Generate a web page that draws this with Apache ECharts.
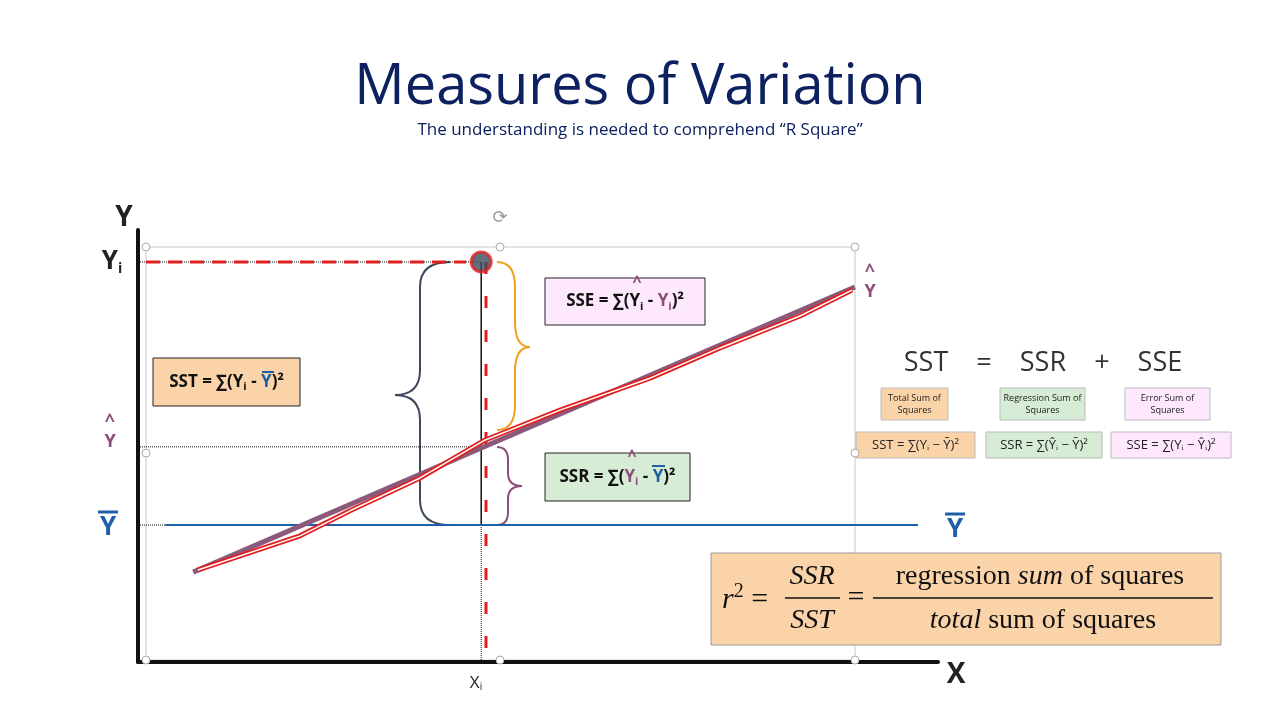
<!DOCTYPE html>
<html><head><meta charset="utf-8">
<script src="https://cdn.jsdelivr.net/npm/echarts@6/dist/echarts.min.js"></script>
<style>html,body{margin:0;background:#fff}#c{width:1280px;height:720px}</style>
</head><body><div id="c"></div>
<script>
const xi = 42.9, yi = 92.6, yhat = 49.8, ybar = 31.7;
const regressionLine = [[6.9, 20.8], [89.6, 86.8]];
const handDrawn = [[7.5,21.3],[20.25,29.2],[26.5,35.0],[35.25,42.6],[43.4,51.4],[52.75,58.3],[64,65.7],[72.75,72.7],[82.75,80.1],[89.25,86.1]];
const meanLine = [[3.4, ybar], [97.5, ybar]];
const titleText = 'Measures of Variation';
const subtitleText = 'The understanding is needed to comprehend “R Square”';

const chart = echarts.init(document.getElementById('c'));
const F = 'Open Sans';
function box(x,y,w,h,fill,text,rich,fs){
  return {type:'group',children:[
    {type:'rect',shape:{x:x,y:y,width:w,height:h},style:{fill:fill,stroke:'#222',lineWidth:1}},
    {type:'text',x:x+w/2,y:y+h/2,style:{text:text,rich:rich||{},fill:'#111',font:'bold '+(fs||17)+'px '+F,align:'center',verticalAlign:'middle'}}
  ]};
}
const richBase = {
  b:{fontWeight:'bold',fontSize:17,fontFamily:F,fill:'#111'},
  s:{fontWeight:'bold',fontSize:11,fontFamily:F,fill:'#111',padding:[10,0,0,0]},
  p:{fontWeight:'bold',fontSize:17,fontFamily:F,fill:'#8b4f7a'},
  ps:{fontWeight:'bold',fontSize:11,fontFamily:F,fill:'#8b4f7a',padding:[10,0,0,0]},
  bl:{fontWeight:'bold',fontSize:17,fontFamily:F,fill:'#1f5fa8'}
};
function small(x,y,w,h,fill,text,fs){
  return {type:'group',children:[
    {type:'rect',shape:{x:x,y:y,width:w,height:h},style:{fill:fill,stroke:'#bbb',lineWidth:1}},
    {type:'text',x:x+w/2,y:y+h/2,style:{text:text,fill:'#222',font:(fs||9)+'px '+F,align:'center',verticalAlign:'middle',lineHeight:12}}
  ]};
}
function label(x,y,t,color,fs){
  return {type:'text',x:x,y:y,style:{text:t,fill:color,font:'bold '+fs+'px '+F,align:'center',verticalAlign:'middle'}};
}
function brace(x0,xm,xt,y0,ym,y1,color){
  const st={fill:'none',stroke:color,lineWidth:2};
  const r=Math.min(25,(ym-y0)/3);
  return {type:'group',children:[
    {type:'bezierCurve',shape:{x1:x0,y1:y0,cpx1:xm,cpy1:y0,x2:xm,y2:y0+r},style:st},
    {type:'line',shape:{x1:xm,y1:y0+r,x2:xm,y2:ym-r},style:st},
    {type:'bezierCurve',shape:{x1:xm,y1:ym-r,cpx1:xm,cpy1:ym,x2:xt,y2:ym},style:st},
    {type:'bezierCurve',shape:{x1:xt,y1:ym,cpx1:xm,cpy1:ym,x2:xm,y2:ym+r},style:st},
    {type:'line',shape:{x1:xm,y1:ym+r,x2:xm,y2:y1-r},style:st},
    {type:'bezierCurve',shape:{x1:xm,y1:y1-r,cpx1:xm,cpy1:y1,x2:x0,y2:y1},style:st}
  ]};
}
const graphics = [
  {type:'text',x:640,y:88,style:{text:titleText,fill:'#0d2160',font:'56px '+F,align:'center',verticalAlign:'middle'}},
  {type:'text',x:640,y:130,style:{text:subtitleText,fill:'#0d2160',font:'17px '+F,align:'center',verticalAlign:'middle'}},
  {type:'rect',shape:{x:146,y:247,width:709,height:413},style:{fill:'none',stroke:'#c8c8c8',lineWidth:1},z:0},
  ...[[146,247],[500,247],[855,247],[146,453],[855,453],[146,660],[500,660],[855,660]].map(p=>({type:'circle',shape:{cx:p[0],cy:p[1],r:4},style:{fill:'#fff',stroke:'#aaa'},z:1})),
  {type:'text',x:500,y:218,style:{text:'⟳',fill:'#999',font:'18px DejaVu Sans',align:'center',verticalAlign:'middle'}},
  brace(450,420,395,262,395,525,'#3d4a5c'),
  brace(497,515,530,262,347,430,'#f0a020'),
  brace(497,508,522,447,486,525,'#8b4f7a'),
  box(545,278,160,47,'#fde8fd','{b|SSE = ∑(Y}{s|i}{b| - }{p|Y}{ps|i}{b|)²}',richBase),
  label(637,282,'^','#8b4f7a',16),
  box(153,358,147,48,'#fbd3a8','{b|SST = ∑(Y}{s|i}{b| - }{bl|Y}{b|)²}',richBase),
  {type:'line',shape:{x1:262,y1:372,x2:274,y2:372},style:{stroke:'#1f5fa8',lineWidth:2}},
  box(545,453,145,48,'#d6ecd4','{b|SSR = ∑(}{p|Y}{ps|i}{b| - }{bl|Y}{b|)²}',richBase),
  label(632,456,'^','#8b4f7a',16),
  {type:'line',shape:{x1:652,y1:466,x2:665,y2:466},style:{stroke:'#1f5fa8',lineWidth:2}},
  label(124,218,'Y','#222',28),
  {type:'text',x:112,y:262,style:{text:'{a|Y}{b|i}',rich:{a:{font:'bold 26px '+F,fill:'#222'},b:{font:'bold 14px '+F,fill:'#222',padding:[14,0,0,0]}},align:'center',verticalAlign:'middle'}},
  label(110,422,'^','#8b4f7a',18),label(110,442,'Y','#8b4f7a',18),
  label(108,528,'Y','#1f5fa8',26),{type:'line',shape:{x1:98,y1:512,x2:118,y2:512},style:{stroke:'#1f5fa8',lineWidth:3}},
  label(870,272,'^','#8b4f7a',18),label(870,292,'Y','#8b4f7a',18),
  label(955,530,'Y','#1f5fa8',26),{type:'line',shape:{x1:945,y1:514,x2:965,y2:514},style:{stroke:'#1f5fa8',lineWidth:3}},
  label(956,675,'X','#222',28),
  {type:'text',x:476,y:683,style:{text:'{a|X}{b|i}',rich:{a:{font:'17px '+F,fill:'#222'},b:{font:'10px '+F,fill:'#222',padding:[8,0,0,0]}},align:'center',verticalAlign:'middle'}},
  {type:'text',x:1043,y:363,style:{text:'SST    =    SSR    +    SSE',fill:'#333',font:'27px '+F,align:'center',verticalAlign:'middle'}},
  small(881,388,67,32,'#fbd3a8','Total Sum of\nSquares'),
  small(1000,388,85,32,'#d6ecd4','Regression Sum of\nSquares'),
  small(1125,388,85,32,'#fde8fd','Error Sum of\nSquares'),
  small(856,432,119,26,'#fbd3a8','SST = ∑(Yᵢ − Ȳ)²',13),
  small(986,432,116,26,'#d6ecd4','SSR = ∑(Ŷᵢ − Ȳ)²',13),
  small(1111,432,120,26,'#fde8fd','SSE = ∑(Yᵢ − Ŷᵢ)²',13),
  {type:'rect',shape:{x:711,y:553,width:510,height:92},style:{fill:'#fbd3a8',stroke:'#999',lineWidth:1}},
  {type:'text',x:745,y:600,style:{text:'{i|r}{s|2}{n| =}',rich:{i:{font:'italic 30px Liberation Serif',fill:'#111'},s:{font:'20px Liberation Serif',fill:'#111',padding:[0,0,16,0]},n:{font:'30px Liberation Serif',fill:'#111'}},align:'center',verticalAlign:'middle'}},
  {type:'text',x:812,y:577,style:{text:'SSR',fill:'#111',font:'italic 28px Liberation Serif',align:'center',verticalAlign:'middle'}},
  {type:'line',shape:{x1:785,y1:598,x2:840,y2:598},style:{stroke:'#111',lineWidth:1.5}},
  {type:'text',x:812,y:621,style:{text:'SST',fill:'#111',font:'italic 28px Liberation Serif',align:'center',verticalAlign:'middle'}},
  {type:'text',x:856,y:598,style:{text:'=',fill:'#111',font:'30px Liberation Serif',align:'center',verticalAlign:'middle'}},
  {type:'text',x:1040,y:577,style:{text:'{n|regression }{i|sum}{n| of squares}',rich:{n:{font:'28px Liberation Serif',fill:'#111'},i:{font:'italic 28px Liberation Serif',fill:'#111'}},align:'center',verticalAlign:'middle'}},
  {type:'line',shape:{x1:873,y1:598,x2:1213,y2:598},style:{stroke:'#111',lineWidth:1.5}},
  {type:'text',x:1043,y:621,style:{text:'{i|total}{n| sum of squares}',rich:{n:{font:'28px Liberation Serif',fill:'#111'},i:{font:'italic 28px Liberation Serif',fill:'#111'}},align:'center',verticalAlign:'middle'}}
];
function seg(data,color,w,type,z){return {type:'line',data:data,symbol:'none',silent:true,z:z||2,lineStyle:{color:color,width:w,type:type||'solid'}};}
chart.setOption({
  animation:false,
  grid:{left:138,top:230,width:800,height:432},
  xAxis:{type:'value',min:0,max:100,axisLine:{show:true,lineStyle:{color:'#111',width:4}},axisTick:{show:false},axisLabel:{show:false},splitLine:{show:false}},
  yAxis:{type:'value',min:0,max:100,axisLine:{show:true,lineStyle:{color:'#111',width:4}},axisTick:{show:false},axisLabel:{show:false},splitLine:{show:false}},
  graphic:graphics,
  series:[
    seg([[0,yi],[xi,yi]],'#111',1,'dotted'),
    seg([[0,yhat],[xi,yhat]],'#111',1,'dotted'),
    seg([[0,ybar],[3.4,ybar]],'#111',1,'dotted'),
    seg([[xi,0],[xi,ybar]],'#111',1,'dotted'),
    seg([[xi,ybar],[xi,yi]],'#111',1.5),
    seg(meanLine,'#1f5fa8',2,'solid',3),
    seg(regressionLine,'#8b5a7b',5,'solid',4),
    seg(handDrawn,'#e02020',5,'solid',5),
    seg(handDrawn,'#ffffff',1.5,'solid',6),
    seg([[1,yi],[41,yi]],'#e02020',3,[14,8],5),
    seg([[xi+0.6,yi],[xi+0.6,0.5]],'#e02020',3,[12,22],5),
    {type:'scatter',data:[[xi,yi]],symbolSize:20,z:7,itemStyle:{color:'#3d4a5c',borderColor:'#e02020',borderWidth:3}}
  ]
});
</script></body></html>
